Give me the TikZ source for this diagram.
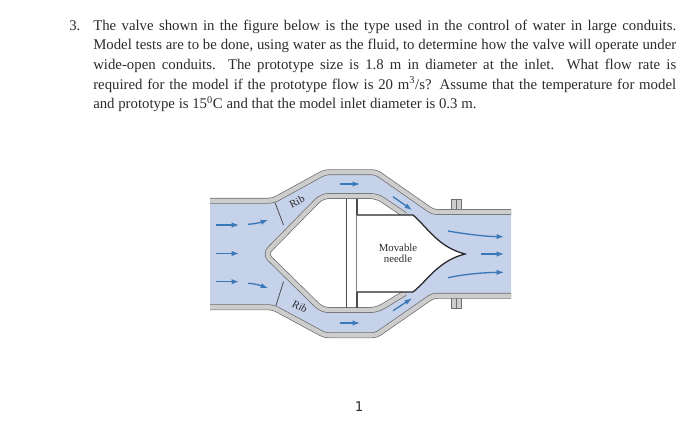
\documentclass[tikz,border=0pt]{standalone}
\usepackage{fontspec}
\setmainfont{Liberation Serif}
\newfontfamily\onefont{DejaVu Sans}
\definecolor{water}{HTML}{C6D1EA}
\definecolor{wallgray}{HTML}{CDCDCD}
\definecolor{walldark}{HTML}{6E6E6E}
\definecolor{flowblue}{HTML}{3B78B8}
\definecolor{inkgray}{HTML}{2B2B2B}
\usetikzlibrary{arrows.meta}
\tikzset{
  wall/.style={draw=walldark,double=wallgray,line width=0.55pt,double distance=3.3pt,line join=round,rounded corners=3pt},
  flow/.style={draw=flowblue,line width=1pt,-{Latex[length=5.5pt,width=4pt]}},
  bar/.style={draw=walldark!70!black,line width=1pt},
  flange/.style={draw=walldark,fill=wallgray,line width=0.7pt},
  para/.style={anchor=base west,inner sep=0pt,font=\fontsize{11.1pt}{13pt}\selectfont,text=inkgray},
  small/.style={inner sep=0pt,font=\fontsize{8.1pt}{8.2pt}\selectfont,text=inkgray,align=center},
  ribtext/.style={inner sep=0pt,font=\fontsize{8pt}{8pt}\selectfont,text=inkgray}
}
\newcommand{\fullline}[1]{\makebox[437.2pt][s]{#1}}
\begin{document}
\begin{tikzpicture}[x=0.75pt,y=-0.75pt]
\useasboundingbox (0,0) rectangle (700,443);
% water
\fill[water] (210,200.7) -- (273,200.7) -- (325,172.2) -- (376,172.2) -- (433,212) -- (511,212)
  -- (511,295.7) -- (433,295.7) -- (376,335.3) -- (325,335.3) -- (273,307.3) -- (210,307.3) -- cycle;
% flanges
\draw[flange] (451,199) rectangle (456.3,212);
\draw[flange] (456.3,199) rectangle (461.7,212);
\draw[flange] (451,296) rectangle (456.3,308.5);
\draw[flange] (456.3,296) rectangle (461.7,308.5);
% outer walls
\draw[wall] (210,200.7) -- (273,200.7) -- (325,172.2) -- (376,172.2) -- (433,212) -- (511,212);
\draw[wall] (210,307.3) -- (273,307.3) -- (325,335.3) -- (376,335.3) -- (433,295.7) -- (511,295.7);
% body
\fill[white] (404,214) -- (377,196) -- (322,196) -- (266,254) -- (322,310) -- (377,310) -- (404,294) -- cycle;
\draw[wall,rounded corners=5pt] (405,215) -- (377,196) -- (322,196) -- (265,254) -- (322,310) -- (377,310) -- (405,293);
% needle
\fill[white,draw=black!85,line width=0.95pt] (357,215) -- (413,215) .. controls (428,228) and (438,247) .. (465,254)
  .. controls (438,261) and (428,280) .. (413,292) -- (357,292);
\draw[bar] (346.3,198.5) -- (346.3,308);
\draw[draw=gray,line width=0.8pt] (356.7,198.5) -- (356.7,308);
\draw[bar] (357,198.5) -- (357,215);
\draw[bar] (357,292) -- (357,308);
% ribs
\draw[bar,line width=0.6pt] (275,202.5) -- (283.5,225);
\draw[bar,line width=0.6pt] (283.5,281.7) -- (276,305.5);
\node[ribtext,rotate=28] (ribA) at (297,201.5) {Rib};
\node[ribtext,rotate=-28] (ribB) at (300,306.5) {Rib};
\node[small] (needle) at (398,253) {Movable\\needle};
% arrows
\draw[flow] (216,225) -- (239,225);
\draw[flow] (248,224.3) .. controls (255,224) and (262,222) .. (268,220);
\draw[flow] (216,253.5) -- (239,253.5);
\draw[flow] (216,281.7) -- (239,281.7);
\draw[flow] (248,283.3) .. controls (255,283.5) and (262,286) .. (268,288);
\draw[flow] (340,184) -- (360,184);
\draw[flow] (340,323) -- (360,323);
\draw[flow] (393,196.7) -- (412,210);
\draw[flow] (393,310.7) -- (412,298.3);
\draw[flow] (448,231) .. controls (465,234) and (485,236.5) .. (504,236.7);
\draw[flow] (481,254) -- (504,254);
\draw[flow] (448,277.7) .. controls (465,274) and (485,272.5) .. (504,272.3);
% text
\node[para] (num) at (69,30) {3.};
\node[para] (l1) at (93,30) {\fullline{The valve shown in the figure below is the type used in the control of water in large conduits.}};
\node[para] (l2) at (93,49.5) {\fullline{Model tests are to be done, using water as the fluid, to determine how the valve will operate under}};
\node[para] (l3) at (93,69.3) {\fullline{wide-open conduits. The prototype size is 1.8 m in diameter at the inlet. What flow rate is}};
\node[para] (l4) at (93,89) {\fullline{required for the model if the prototype flow is 20 m\textsuperscript{3}/s? Assume that the temperature for model}};
\node[para] (l5) at (93,108.7) {and prototype is 15\textsuperscript{0}C and that the model inlet diameter is 0.3 m.};
\node[inner sep=0pt,font=\onefont\fontsize{10pt}{10pt}\selectfont,text=inkgray] (pg) at (359,407) {1};
\end{tikzpicture}
\end{document}
